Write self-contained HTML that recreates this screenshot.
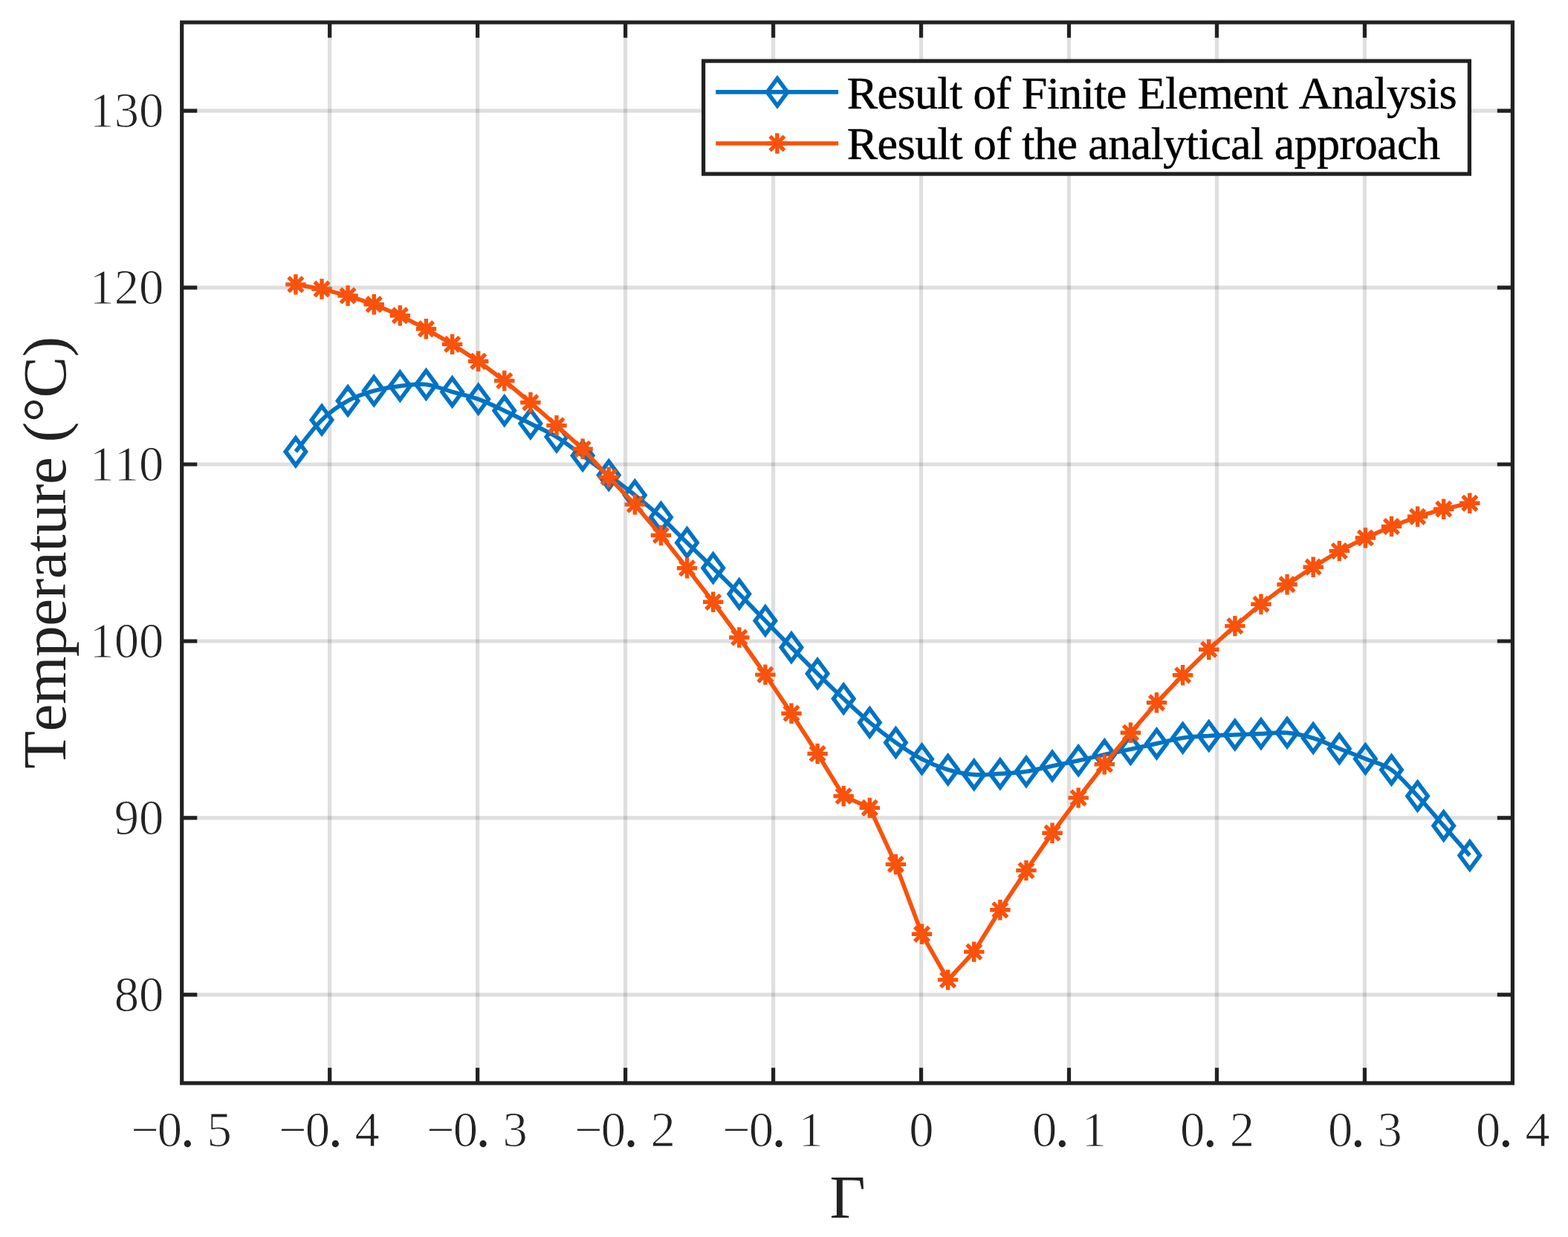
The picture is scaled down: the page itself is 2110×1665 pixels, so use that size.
<!DOCTYPE html>
<html lang="en">
<head>
<meta charset="utf-8">
<title>Temperature versus Γ – finite element analysis and analytical approach</title>
<style>
html,body{margin:0;padding:0;background:#fff}
#chart{display:block;width:2110px;height:1665px}
#chart text{font-family:"Liberation Serif","Noto Serif CJK SC",serif;font-kerning:none;font-variant-ligatures:none;white-space:pre}
.tk{font-size:66.67px;fill:#222;text-anchor:middle;stroke:#fff;stroke-width:1.0px;stroke-linejoin:round}
.tk .d{stroke:#222;stroke-width:1.3px}
.lb{font-size:83.33px;fill:#222}
.lg{font-size:62.0px;fill:#000;stroke:#000;stroke-width:0.5px;stroke-linejoin:round}
.grid{fill:none;stroke:#262626;stroke-opacity:0.15;stroke-width:5.2px}
.ax{fill:none;stroke:#212121;stroke-width:5.2px}
.s1{fill:none;stroke:#0073c4}
.s2{fill:none;stroke:#f9520b}
.ln{stroke-width:5.7px;stroke-linejoin:round}
.dm{stroke-width:5.6px;stroke-linejoin:miter}
.as{stroke-width:5.4px}
</style>
</head>
<body>
<svg id="chart" width="2110" height="1665" viewBox="0 0 2110 1665" role="img" aria-label="Line chart of temperature against Γ">
<rect id="bg" width="2110" height="1665" fill="#fff"/>
<g id="grid" class="grid">
<path d="M443.67 30.1V1457.9M642.63 30.1V1457.9M841.6 30.1V1457.9M1040.57 30.1V1457.9M1239.53 30.1V1457.9M1438.5 30.1V1457.9M1637.47 30.1V1457.9M1836.43 30.1V1457.9"/>
<path d="M244.7 1338.92H2035.4M244.7 1100.95H2035.4M244.7 862.98H2035.4M244.7 625.02H2035.4M244.7 387.05H2035.4M244.7 149.08H2035.4"/>
</g>
<g id="series-finite-element" class="s1">
<path class="ln" d="M397.9 607.9C403.75 600.78 421.31 576.58 433.01 565.2C444.71 553.82 456.41 546.12 468.12 539.6C479.82 533.08 491.52 529.43 503.23 526.1C514.93 522.77 526.63 521.03 538.34 519.6C550.04 518.17 561.74 516.2 573.44 517.5C585.15 518.8 596.85 524.1 608.55 527.4C620.26 530.7 631.96 533.07 643.66 537.3C655.37 541.53 667.07 547.33 678.77 552.8C690.47 558.27 702.18 564.22 713.88 570.1C725.58 575.98 737.29 580.9 748.99 588.1C760.69 595.3 772.4 604.73 784.1 613.3C795.8 621.87 807.5 630.63 819.21 639.5C830.91 648.37 842.61 657.05 854.32 666.5C866.02 675.95 877.72 685.53 889.43 696.2C901.13 706.87 912.83 719.12 924.53 730.5C936.24 741.88 947.94 753 959.64 764.5C971.35 776 983.05 787.67 994.75 799.5C1006.46 811.33 1018.16 823.5 1029.86 835.5C1041.57 847.5 1053.27 859.63 1064.97 871.5C1076.67 883.37 1088.38 895.2 1100.08 906.7C1111.78 918.2 1123.49 929.55 1135.19 940.5C1146.89 951.45 1158.6 962.57 1170.3 972.4C1182 982.23 1193.7 991.28 1205.41 999.5C1217.11 1007.72 1228.81 1015.62 1240.52 1021.7C1252.22 1027.78 1263.92 1032.5 1275.62 1036C1287.33 1039.5 1299.03 1041.8 1310.73 1042.7C1322.44 1043.6 1334.14 1042.1 1345.84 1041.4C1357.55 1040.7 1369.25 1040.23 1380.95 1038.5C1392.65 1036.77 1404.36 1033.45 1416.06 1031C1427.76 1028.55 1439.47 1026.35 1451.17 1023.8C1462.87 1021.25 1474.58 1018.25 1486.28 1015.7C1497.98 1013.15 1509.68 1010.97 1521.39 1008.5C1533.09 1006.03 1544.79 1003.45 1556.5 1000.9C1568.2 998.35 1579.9 994.93 1591.61 993.2C1603.31 991.47 1615.01 991.2 1626.72 990.5C1638.42 989.8 1650.12 989.48 1661.82 989C1673.53 988.52 1685.23 988.05 1696.93 987.6C1708.64 987.15 1720.34 985.32 1732.04 986.3C1743.74 987.28 1755.45 989.93 1767.15 993.5C1778.85 997.07 1790.56 1003.05 1802.26 1007.7C1813.96 1012.35 1825.67 1016.65 1837.37 1021.4C1849.07 1026.15 1860.78 1027.87 1872.48 1036.2C1884.18 1044.53 1895.88 1058.85 1907.59 1071.4C1919.29 1083.95 1930.99 1098.15 1942.7 1111.5C1954.4 1124.85 1971.95 1144.83 1977.8 1151.5"/>
<path class="dm" d="M397.9 589.6L411.5 607.9L397.9 626.2L384.3 607.9ZM433.01 546.9L446.61 565.2L433.01 583.5L419.41 565.2ZM468.12 521.3L481.72 539.6L468.12 557.9L454.52 539.6ZM503.23 507.8L516.83 526.1L503.23 544.4L489.63 526.1ZM538.34 501.3L551.94 519.6L538.34 537.9L524.74 519.6ZM573.44 499.2L587.04 517.5L573.44 535.8L559.84 517.5ZM608.55 509.1L622.15 527.4L608.55 545.7L594.95 527.4ZM643.66 519L657.26 537.3L643.66 555.6L630.06 537.3ZM678.77 534.5L692.37 552.8L678.77 571.1L665.17 552.8ZM713.88 551.8L727.48 570.1L713.88 588.4L700.28 570.1ZM748.99 569.8L762.59 588.1L748.99 606.4L735.39 588.1ZM784.1 595L797.7 613.3L784.1 631.6L770.5 613.3ZM819.21 621.2L832.81 639.5L819.21 657.8L805.61 639.5ZM854.32 648.2L867.92 666.5L854.32 684.8L840.72 666.5ZM889.43 677.9L903.03 696.2L889.43 714.5L875.83 696.2ZM924.53 712.2L938.13 730.5L924.53 748.8L910.93 730.5ZM959.64 746.2L973.24 764.5L959.64 782.8L946.04 764.5ZM994.75 781.2L1008.35 799.5L994.75 817.8L981.15 799.5ZM1029.86 817.2L1043.46 835.5L1029.86 853.8L1016.26 835.5ZM1064.97 853.2L1078.57 871.5L1064.97 889.8L1051.37 871.5ZM1100.08 888.4L1113.68 906.7L1100.08 925L1086.48 906.7ZM1135.19 922.2L1148.79 940.5L1135.19 958.8L1121.59 940.5ZM1170.3 954.1L1183.9 972.4L1170.3 990.7L1156.7 972.4ZM1205.41 981.2L1219.01 999.5L1205.41 1017.8L1191.81 999.5ZM1240.52 1003.4L1254.12 1021.7L1240.52 1040L1226.92 1021.7ZM1275.62 1017.7L1289.22 1036L1275.62 1054.3L1262.03 1036ZM1310.73 1024.4L1324.33 1042.7L1310.73 1061L1297.13 1042.7ZM1345.84 1023.1L1359.44 1041.4L1345.84 1059.7L1332.24 1041.4ZM1380.95 1020.2L1394.55 1038.5L1380.95 1056.8L1367.35 1038.5ZM1416.06 1012.7L1429.66 1031L1416.06 1049.3L1402.46 1031ZM1451.17 1005.5L1464.77 1023.8L1451.17 1042.1L1437.57 1023.8ZM1486.28 997.4L1499.88 1015.7L1486.28 1034L1472.68 1015.7ZM1521.39 990.2L1534.99 1008.5L1521.39 1026.8L1507.79 1008.5ZM1556.5 982.6L1570.1 1000.9L1556.5 1019.2L1542.9 1000.9ZM1591.61 974.9L1605.21 993.2L1591.61 1011.5L1578.01 993.2ZM1626.72 972.2L1640.32 990.5L1626.72 1008.8L1613.12 990.5ZM1661.82 970.7L1675.42 989L1661.82 1007.3L1648.22 989ZM1696.93 969.3L1710.53 987.6L1696.93 1005.9L1683.33 987.6ZM1732.04 968L1745.64 986.3L1732.04 1004.6L1718.44 986.3ZM1767.15 975.2L1780.75 993.5L1767.15 1011.8L1753.55 993.5ZM1802.26 989.4L1815.86 1007.7L1802.26 1026L1788.66 1007.7ZM1837.37 1003.1L1850.97 1021.4L1837.37 1039.7L1823.77 1021.4ZM1872.48 1017.9L1886.08 1036.2L1872.48 1054.5L1858.88 1036.2ZM1907.59 1053.1L1921.19 1071.4L1907.59 1089.7L1893.99 1071.4ZM1942.7 1093.2L1956.3 1111.5L1942.7 1129.8L1929.1 1111.5ZM1977.8 1133.2L1991.4 1151.5L1977.8 1169.8L1964.2 1151.5Z"/>
</g>
<g id="series-analytical" class="s2">
<polyline class="ln" points="397.9,382.9 433.01,389 468.12,398 503.23,409.7 538.34,424.7 573.44,442.7 608.55,463.4 643.66,486.3 678.77,512.5 713.88,541.8 748.99,572.8 784.1,604.3 819.21,642.2 854.32,679.1 889.43,720.5 924.53,764.7 959.64,810.3 994.75,858 1029.86,908.1 1064.97,960.2 1100.08,1014.5 1135.19,1071.5 1170.3,1087.4 1205.41,1163.4 1240.52,1257.3 1275.62,1318.9 1310.73,1281.1 1345.84,1224.8 1380.95,1171.6 1416.06,1121.2 1451.17,1073.9 1486.28,1028.8 1521.39,986.3 1556.5,945.8 1591.61,908.8 1626.72,874.2 1661.82,842.6 1696.93,813.3 1732.04,786.7 1767.15,763.2 1802.26,741.6 1837.37,724 1872.48,708.6 1907.59,695.3 1942.7,685.2 1977.8,677.3"/>
<path class="as" d="M384.2 382.9H411.6M397.9 369.2V396.6M388.21 373.21L407.59 392.59M388.21 392.59L407.59 373.21M419.31 389H446.71M433.01 375.3V402.7M423.32 379.31L442.7 398.69M423.32 398.69L442.7 379.31M454.42 398H481.82M468.12 384.3V411.7M458.43 388.31L477.81 407.69M458.43 407.69L477.81 388.31M489.53 409.7H516.93M503.23 396V423.4M493.54 400.01L512.91 419.39M493.54 419.39L512.91 400.01M524.64 424.7H552.04M538.34 411V438.4M528.65 415.01L548.02 434.39M528.65 434.39L548.02 415.01M559.74 442.7H587.14M573.44 429V456.4M563.76 433.01L583.13 452.39M563.76 452.39L583.13 433.01M594.85 463.4H622.25M608.55 449.7V477.1M598.87 453.71L618.24 473.09M598.87 473.09L618.24 453.71M629.96 486.3H657.36M643.66 472.6V500M633.98 476.61L653.35 495.99M633.98 495.99L653.35 476.61M665.07 512.5H692.47M678.77 498.8V526.2M669.08 502.81L688.46 522.19M669.08 522.19L688.46 502.81M700.18 541.8H727.58M713.88 528.1V555.5M704.19 532.11L723.57 551.49M704.19 551.49L723.57 532.11M735.29 572.8H762.69M748.99 559.1V586.5M739.3 563.11L758.68 582.49M739.3 582.49L758.68 563.11M770.4 604.3H797.8M784.1 590.6V618M774.41 594.61L793.79 613.99M774.41 613.99L793.79 594.61M805.51 642.2H832.91M819.21 628.5V655.9M809.52 632.51L828.9 651.89M809.52 651.89L828.9 632.51M840.62 679.1H868.02M854.32 665.4V692.8M844.63 669.41L864 688.79M844.63 688.79L864 669.41M875.73 720.5H903.13M889.43 706.8V734.2M879.74 710.81L899.11 730.19M879.74 730.19L899.11 710.81M910.83 764.7H938.24M924.53 751V778.4M914.85 755.01L934.22 774.39M914.85 774.39L934.22 755.01M945.94 810.3H973.34M959.64 796.6V824M949.96 800.61L969.33 819.99M949.96 819.99L969.33 800.61M981.05 858H1008.45M994.75 844.3V871.7M985.07 848.31L1004.44 867.69M985.07 867.69L1004.44 848.31M1016.16 908.1H1043.56M1029.86 894.4V921.8M1020.17 898.41L1039.55 917.79M1020.17 917.79L1039.55 898.41M1051.27 960.2H1078.67M1064.97 946.5V973.9M1055.28 950.51L1074.66 969.89M1055.28 969.89L1074.66 950.51M1086.38 1014.5H1113.78M1100.08 1000.8V1028.2M1090.39 1004.81L1109.77 1024.19M1090.39 1024.19L1109.77 1004.81M1121.49 1071.5H1148.89M1135.19 1057.8V1085.2M1125.5 1061.81L1144.88 1081.19M1125.5 1081.19L1144.88 1061.81M1156.6 1087.4H1184M1170.3 1073.7V1101.1M1160.61 1077.71L1179.99 1097.09M1160.61 1097.09L1179.99 1077.71M1191.71 1163.4H1219.11M1205.41 1149.7V1177.1M1195.72 1153.71L1215.09 1173.09M1195.72 1173.09L1215.09 1153.71M1226.82 1257.3H1254.22M1240.52 1243.6V1271M1230.83 1247.61L1250.2 1266.99M1230.83 1266.99L1250.2 1247.61M1261.92 1318.9H1289.33M1275.62 1305.2V1332.6M1265.94 1309.21L1285.31 1328.59M1265.94 1328.59L1285.31 1309.21M1297.03 1281.1H1324.43M1310.73 1267.4V1294.8M1301.05 1271.41L1320.42 1290.79M1301.05 1290.79L1320.42 1271.41M1332.14 1224.8H1359.54M1345.84 1211.1V1238.5M1336.16 1215.11L1355.53 1234.49M1336.16 1234.49L1355.53 1215.11M1367.25 1171.6H1394.65M1380.95 1157.9V1185.3M1371.26 1161.91L1390.64 1181.29M1371.26 1181.29L1390.64 1161.91M1402.36 1121.2H1429.76M1416.06 1107.5V1134.9M1406.37 1111.51L1425.75 1130.89M1406.37 1130.89L1425.75 1111.51M1437.47 1073.9H1464.87M1451.17 1060.2V1087.6M1441.48 1064.21L1460.86 1083.59M1441.48 1083.59L1460.86 1064.21M1472.58 1028.8H1499.98M1486.28 1015.1V1042.5M1476.59 1019.11L1495.97 1038.49M1476.59 1038.49L1495.97 1019.11M1507.69 986.3H1535.09M1521.39 972.6V1000M1511.7 976.61L1531.08 995.99M1511.7 995.99L1531.08 976.61M1542.8 945.8H1570.2M1556.5 932.1V959.5M1546.81 936.11L1566.18 955.49M1546.81 955.49L1566.18 936.11M1577.91 908.8H1605.31M1591.61 895.1V922.5M1581.92 899.11L1601.29 918.49M1581.92 918.49L1601.29 899.11M1613.02 874.2H1640.42M1626.72 860.5V887.9M1617.03 864.51L1636.4 883.89M1617.03 883.89L1636.4 864.51M1648.12 842.6H1675.52M1661.82 828.9V856.3M1652.14 832.91L1671.51 852.29M1652.14 852.29L1671.51 832.91M1683.23 813.3H1710.63M1696.93 799.6V827M1687.25 803.61L1706.62 822.99M1687.25 822.99L1706.62 803.61M1718.34 786.7H1745.74M1732.04 773V800.4M1722.35 777.01L1741.73 796.39M1722.35 796.39L1741.73 777.01M1753.45 763.2H1780.85M1767.15 749.5V776.9M1757.46 753.51L1776.84 772.89M1757.46 772.89L1776.84 753.51M1788.56 741.6H1815.96M1802.26 727.9V755.3M1792.57 731.91L1811.95 751.29M1792.57 751.29L1811.95 731.91M1823.67 724H1851.07M1837.37 710.3V737.7M1827.68 714.31L1847.06 733.69M1827.68 733.69L1847.06 714.31M1858.78 708.6H1886.18M1872.48 694.9V722.3M1862.79 698.91L1882.17 718.29M1862.79 718.29L1882.17 698.91M1893.89 695.3H1921.29M1907.59 681.6V709M1897.9 685.61L1917.27 704.99M1897.9 704.99L1917.27 685.61M1929 685.2H1956.4M1942.7 671.5V698.9M1933.01 675.51L1952.38 694.89M1933.01 694.89L1952.38 675.51M1964.1 677.3H1991.5M1977.8 663.6V691M1968.12 667.61L1987.49 686.99M1968.12 686.99L1987.49 667.61"/>
</g>
<g id="axes" class="ax">
<path id="ticks" d="M443.67 1457.9v-20.6M443.67 30.1v20.6M642.63 1457.9v-20.6M642.63 30.1v20.6M841.6 1457.9v-20.6M841.6 30.1v20.6M1040.57 1457.9v-20.6M1040.57 30.1v20.6M1239.53 1457.9v-20.6M1239.53 30.1v20.6M1438.5 1457.9v-20.6M1438.5 30.1v20.6M1637.47 1457.9v-20.6M1637.47 30.1v20.6M1836.43 1457.9v-20.6M1836.43 30.1v20.6M244.7 1338.92h20.6M2035.4 1338.92h-20.6M244.7 1100.95h20.6M2035.4 1100.95h-20.6M244.7 862.98h20.6M2035.4 862.98h-20.6M244.7 625.02h20.6M2035.4 625.02h-20.6M244.7 387.05h20.6M2035.4 387.05h-20.6M244.7 149.08h20.6M2035.4 149.08h-20.6"/>
<rect id="box" x="244.7" y="30.1" width="1790.7" height="1427.8"/>
</g>
<g id="x-tick-labels">
<text class="tk" x="195.2 228.53 252.27 295.19" y="1543.4">−0<tspan class="d">.</tspan>5</text>
<text class="tk" x="394.17 427.5 451.23 494.16" y="1543.4">−0<tspan class="d">.</tspan>4</text>
<text class="tk" x="593.14 626.47 650.2 693.13" y="1543.4">−0<tspan class="d">.</tspan>3</text>
<text class="tk" x="792.1 825.43 849.16 892.09" y="1543.4">−0<tspan class="d">.</tspan>2</text>
<text class="tk" x="991.07 1024.4 1048.13 1091.06" y="1543.4">−0<tspan class="d">.</tspan>1</text>
<text class="tk" x="1240.03" y="1543.4">0</text>
<text class="tk" x="1405.67 1429.4 1472.33" y="1543.4">0<tspan class="d">.</tspan>1</text>
<text class="tk" x="1604.64 1628.37 1671.3" y="1543.4">0<tspan class="d">.</tspan>2</text>
<text class="tk" x="1803.6 1827.33 1870.26" y="1543.4">0<tspan class="d">.</tspan>3</text>
<text class="tk" x="2002.57 2026.3 2069.23" y="1543.4">0<tspan class="d">.</tspan>4</text>
</g>
<g id="y-tick-labels">
<text class="tk" x="137.07 170.41 203.73" y="170.78">130</text>
<text class="tk" x="137.07 170.41 203.73" y="408.75">120</text>
<text class="tk" x="137.07 170.41 203.73" y="646.72">110</text>
<text class="tk" x="137.07 170.41 203.73" y="884.68">100</text>
<text class="tk" x="170.41 203.74" y="1122.65">90</text>
<text class="tk" x="170.41 203.74" y="1360.62">80</text>
</g>
<text id="x-label" class="lb" x="1116.5" y="1639.1">Γ</text>
<text id="y-label" class="lb" transform="translate(88 1034.8) rotate(-90)" textLength="582">Temperature (°C)</text>
<g id="legend">
<rect class="ax" x="946.6" y="82.1" width="1030.8" height="152" style="fill:#fff"/>
<g class="s1"><path class="ln" d="M963.2 123.9H1128.1"/><path class="dm" d="M1046 105.7L1059.6 124L1046 142.3L1032.4 124Z"/></g>
<text class="lg" x="1139.8" y="145.7" textLength="820.8">Result of Finite Element Analysis</text>
<g class="s2"><path class="ln" d="M963.2 193H1128.1"/><path class="as" d="M1032.1 193H1059.5M1045.8 179.3V206.7M1036.11 183.31L1055.49 202.69M1036.11 202.69L1055.49 183.31"/></g>
<text class="lg" x="1139.8" y="214.4" textLength="798.2">Result of the analytical approach</text>
</g>
</svg>
</body>
</html>
